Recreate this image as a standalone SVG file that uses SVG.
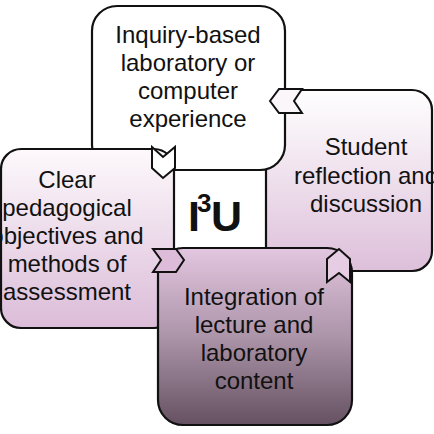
<svg xmlns="http://www.w3.org/2000/svg" width="434" height="434" viewBox="0 0 434 434">
<defs>
<linearGradient id="gLeft" x1="0" y1="0" x2="0" y2="1">
<stop offset="0" stop-color="#fdf9fc"/>
<stop offset="1" stop-color="#dbbcd8"/>
</linearGradient>
<linearGradient id="gRight" x1="0" y1="0" x2="0" y2="1">
<stop offset="0" stop-color="#ffffff"/>
<stop offset="1" stop-color="#ddbfda"/>
</linearGradient>
<linearGradient id="gBottom" x1="0" y1="0" x2="0" y2="1">
<stop offset="0" stop-color="#e3c6e0"/>
<stop offset="0.5" stop-color="#ac94a9"/>
<stop offset="1" stop-color="#655161"/>
</linearGradient>
</defs>
<style>
.box{stroke:#111;stroke-width:2.2}
.chev{stroke:#111;stroke-width:2;stroke-linejoin:miter}
.t{font-family:"Liberation Sans",Arial,sans-serif;font-size:24px;fill:#111;text-anchor:middle}
.big{font-family:"Liberation Sans",Arial,sans-serif;font-weight:bold;fill:#111}
</style>
<rect width="434" height="434" fill="#ffffff"/>
<g id="node-right">
<rect class="box" x="266" y="90" width="166" height="181" rx="20" fill="url(#gRight)"/>
<text class="t" x="366"><tspan x="366" y="155">Student</tspan><tspan x="366" y="183.5">reflection and</tspan><tspan x="366" y="212">discussion</tspan></text>
</g>
<g id="node-top">
<rect class="box" x="92" y="6" width="193" height="164" rx="25" fill="#ffffff"/>
<text class="t" x="188"><tspan x="188" y="43">Inquiry-based</tspan><tspan x="188" y="71">laboratory or</tspan><tspan x="188" y="99">computer</tspan><tspan x="188" y="127">experience</tspan></text>
</g>
<g id="node-left">
<rect class="box" x="1" y="149" width="173" height="179" rx="20" fill="url(#gLeft)"/>
<text class="t" x="67"><tspan x="67" y="188">Clear</tspan><tspan x="67" y="216">pedagogical</tspan><tspan x="67" y="244">objectives and</tspan><tspan x="67" y="272">methods of</tspan><tspan x="67" y="300">assessment</tspan></text>
</g>
<g id="node-bottom">
<rect class="box" x="158" y="248" width="194" height="177" rx="25" fill="url(#gBottom)"/>
<text class="t" x="254"><tspan x="254" y="305">Integration of</tspan><tspan x="254" y="333">lecture and</tspan><tspan x="254" y="361">laboratory</tspan><tspan x="254" y="389">content</tspan></text>
</g>
<g id="node-center">
<text class="big"><tspan x="188" y="231" font-size="43">I</tspan><tspan x="197" y="212" font-size="26">3</tspan><tspan x="211" y="231" font-size="43">U</tspan></text>
</g>
<g id="connectors">
<path class="chev" d="M152,147 L163,157 L175,147 L175,168 L163,178 L152,168 Z" fill="#ffffff"/>
<path class="chev" d="M153,249 L176,249 L184,260 L176,272 L153,272 L161,260 Z" fill="#dcbcd9"/>
<path class="chev" d="M327,259 L339,249 L350,259 L350,282 L339,273 L327,282 Z" fill="#e6cde3"/>
<path class="chev" d="M270,101 L279,89 L302,89 L294,101 L302,113 L279,113 Z" fill="#fbf6fa"/>
</g>
</svg>
